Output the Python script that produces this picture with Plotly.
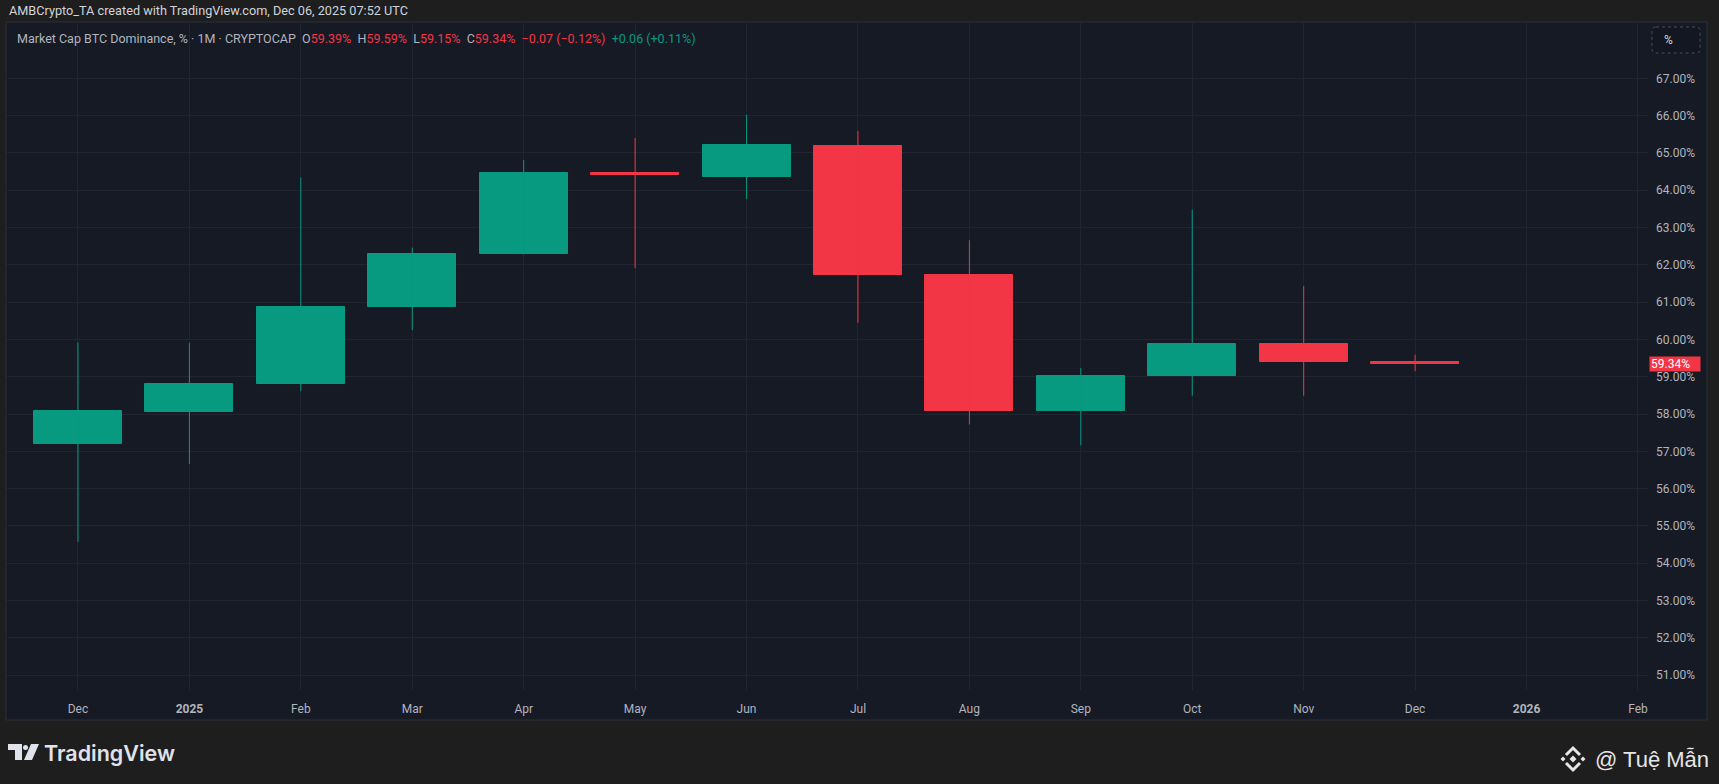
import plotly.graph_objects as go

# monthly candles, BTC dominance (%)
months = ["2024-12", "2025-01", "2025-02", "2025-03", "2025-04", "2025-05", "2025-06",
          "2025-07", "2025-08", "2025-09", "2025-10", "2025-11", "2025-12"]
open_ = [57.20, 58.06, 58.80, 60.88, 62.30, 64.45, 64.36, 65.19, 61.73, 58.08, 59.02, 59.88, 59.39]
high = [59.92, 59.90, 64.34, 62.46, 64.81, 65.40, 66.02, 65.59, 62.66, 59.23, 63.48, 61.43, 59.59]
low = [54.57, 56.66, 58.61, 60.25, 62.28, 61.91, 63.76, 60.45, 57.72, 57.16, 58.49, 58.49, 59.15]
close = [58.08, 58.80, 60.88, 62.30, 64.45, 64.40, 65.20, 61.73, 58.08, 59.02, 59.88, 59.39, 59.34]

# time axis labels (one per month slot)
tick_labels = ["Dec", "<b>2025</b>", "Feb", "Mar", "Apr", "May", "Jun", "Jul", "Aug",
               "Sep", "Oct", "Nov", "Dec", "<b>2026</b>", "Feb"]
price_ticks = list(range(51, 68))

W, H = 1719, 784
L, R, T, B = 6, 71, 22, 94
PW, PH = W - L - R, H - T - B

GREEN = "#089981"
RED = "#f23645"
TXT = "#b2b5be"
SP = "\u00a0\u00a0"


def px(x):
    return (x - L) / PW


def py(y):
    return (H - B - y) / PH


xs = list(range(len(months)))
colors = [GREEN if c >= o else RED for o, c in zip(open_, close)]

fig = go.Figure()

# wicks
for col in (GREEN, RED):
    wx, wy = [], []
    for i in xs:
        if colors[i] == col:
            wx += [i, i, None]
            wy += [low[i], high[i], None]
    fig.add_trace(go.Scatter(x=wx, y=wy, mode="lines", line=dict(color=col, width=1),
                             hoverinfo="skip", showlegend=False))

# bodies
fig.add_trace(go.Bar(
    x=xs,
    y=[max(abs(c - o), 0.06) for o, c in zip(open_, close)],
    base=[min(o, c) for o, c in zip(open_, close)],
    width=0.79,
    marker=dict(color=colors, line=dict(color=colors, width=1)),
    hoverinfo="skip", showlegend=False,
))

shapes = []
# chart panel background
shapes.append(dict(type="rect", xref="paper", yref="paper", layer="below",
                   x0=px(6), x1=px(1707), y0=py(720), y1=py(22),
                   fillcolor="#161a25", line=dict(color="#2a2e39", width=1)))


def rounded_rect(x0, y0, x1, y1, r):
    pts = (f"M {px(x0 + r)},{py(y0)} L {px(x1 - r)},{py(y0)} Q {px(x1)},{py(y0)} {px(x1)},{py(y0 + r)} "
           f"L {px(x1)},{py(y1 - r)} Q {px(x1)},{py(y1)} {px(x1 - r)},{py(y1)} "
           f"L {px(x0 + r)},{py(y1)} Q {px(x0)},{py(y1)} {px(x0)},{py(y1 - r)} "
           f"L {px(x0)},{py(y0 + r)} Q {px(x0)},{py(y0)} {px(x0 + r)},{py(y0)} Z")
    return pts


# "%" button
shapes.append(dict(type="path", xref="paper", yref="paper", path=rounded_rect(1652, 27, 1700, 53, 4),
                   fillcolor="#131722", line=dict(color="#4a4e59", width=1, dash="dot")))

# TradingView logo mark
shapes.append(dict(type="path", xref="paper", yref="paper",
                   path=(f"M {px(8)},{py(744)} L {px(22)},{py(744)} L {px(22)},{py(760)} L {px(15)},{py(760)} "
                         f"L {px(15)},{py(750)} L {px(8)},{py(750)} Z"),
                   fillcolor="#e0e3eb", line=dict(width=0)))
shapes.append(dict(type="circle", xref="paper", yref="paper",
                   x0=px(23), x1=px(28), y0=py(750), y1=py(745),
                   fillcolor="#e0e3eb", line=dict(width=0)))
shapes.append(dict(type="path", xref="paper", yref="paper",
                   path=f"M {px(31)},{py(744)} L {px(39)},{py(744)} L {px(32)},{py(760)} L {px(24)},{py(760)} Z",
                   fillcolor="#e0e3eb", line=dict(width=0)))

# Binance-like mark
bx, by = 1573, 759
for cx, s in ((bx, 3.5), (bx - 10, 2.5), (bx + 10, 2.5)):
    shapes.append(dict(type="path", xref="paper", yref="paper",
                       path=f"M {px(cx - s)},{py(by)} L {px(cx)},{py(by - s)} L {px(cx + s)},{py(by)} L {px(cx)},{py(by + s)} Z",
                       fillcolor="#e6e6e6", line=dict(width=0)))
shapes.append(dict(type="path", xref="paper", yref="paper",
                   path=f"M {px(bx - 7)},{py(by - 4)} L {px(bx)},{py(by - 11)} L {px(bx + 7)},{py(by - 4)}",
                   line=dict(color="#e6e6e6", width=3)))
shapes.append(dict(type="path", xref="paper", yref="paper",
                   path=f"M {px(bx - 7)},{py(by + 4)} L {px(bx)},{py(by + 11)} L {px(bx + 7)},{py(by + 4)}",
                   line=dict(color="#e6e6e6", width=3)))

legend_txt = (
    f'Market Cap BTC Dominance, % · 1M · CRYPTOCAP{SP}'
    f'O<span style="color:{RED}">{open_[-1]:.2f}%</span>{SP}'
    f'H<span style="color:{RED}">{high[-1]:.2f}%</span>{SP}'
    f'L<span style="color:{RED}">{low[-1]:.2f}%</span>{SP}'
    f'C<span style="color:{RED}">{close[-1]:.2f}%</span>{SP}'
    f'<span style="color:{RED}">−0.07 (−0.12%)</span>{SP}'
    f'<span style="color:{GREEN}">+0.06 (+0.11%)</span>'
)

annotations = [
    dict(text="AMBCrypto_TA created with TradingView.com, Dec 06, 2025 07:52 UTC",
         x=px(7), y=py(11), xref="paper", yref="paper", xanchor="left", yanchor="middle",
         showarrow=False, font=dict(color="#d1d4dc", size=12.7)),
    dict(text=legend_txt, x=px(15), y=py(39), xref="paper", yref="paper",
         xanchor="left", yanchor="middle", showarrow=False, font=dict(color=TXT, size=12.5)),
    dict(text="%", x=px(1662), y=py(40), xref="paper", yref="paper", xanchor="left", yanchor="middle",
         showarrow=False, font=dict(color="#d1d4dc", size=12)),
    # last price tag
    dict(text=f"{close[-1]:.2f}%", x=px(1649), y=close[-1], xref="paper", yref="y",
         xanchor="left", yanchor="middle", showarrow=False, bgcolor=RED, borderpad=1,
         width=48, height=12, align="left",
         font=dict(color="white", size=12)),
    dict(text="TradingView", x=px(42), y=py(753), xref="paper", yref="paper", xanchor="left",
         yanchor="middle", showarrow=False, font=dict(color="#e0e3eb", size=21.5, family="Inter", weight=600)),
    dict(text="@ Tuệ Mẫn", x=px(1711), y=py(759), xref="paper", yref="paper", xanchor="right",
         yanchor="middle", showarrow=False, font=dict(color="#e6e6e6", size=22, family="Liberation Sans")),
]

fig.update_layout(
    width=W, height=H,
    margin=dict(l=L, r=R, t=T, b=B),
    paper_bgcolor="#1e1e1e",
    plot_bgcolor="rgba(0,0,0,0)",
    font=dict(family="Roboto", color=TXT, size=12),
    bargap=0,
    shapes=shapes,
    annotations=annotations,
    xaxis=dict(
        range=[-0.646, 14.09],
        tickvals=list(range(len(tick_labels))),
        ticktext=tick_labels,
        showgrid=True, gridcolor="#212531", gridwidth=1,
        zeroline=False, showline=False, ticks="",
        ticklabelstandoff=10,
        tickfont=dict(color=TXT, size=12),
    ),
    yaxis=dict(
        side="right",
        range=[50.60, 68.51],
        tickvals=price_ticks,
        ticktext=[f"{v:.2f}%" for v in price_ticks],
        showgrid=True, gridcolor="#212531", gridwidth=1,
        zeroline=False, showline=False, ticks="",
        ticklabelstandoff=7,
        tickfont=dict(color=TXT, size=12),
    ),
)

fig.write_html("out.html", config={"displayModeBar": False},
               post_script="document.body.style.margin='0';")
